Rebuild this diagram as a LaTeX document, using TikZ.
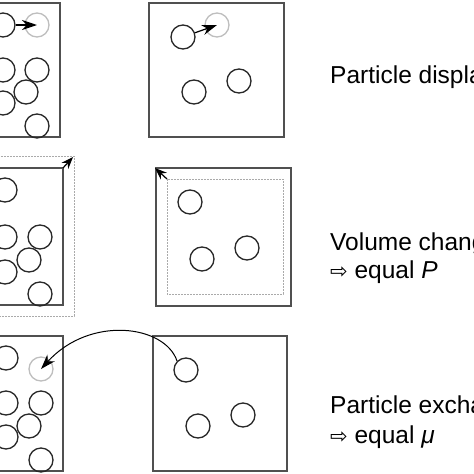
\documentclass[tikz,border=0pt]{standalone}
\usepackage{fontspec}
\setmainfont{Liberation Sans}
\newfontfamily\arrowfont{DejaVu Sans}
\usetikzlibrary{arrows.meta}
\definecolor{mcWall}{RGB}{80,80,80}
\definecolor{mcPart}{RGB}{40,40,40}
\definecolor{mcGhost}{RGB}{190,190,190}
\definecolor{mcTrial}{RGB}{170,170,170}

\begin{document}
\begin{tikzpicture}[x=1pt, y=-1pt,
    wall/.style={draw=mcWall, line width=1.3pt},
    trialwall/.style={draw=mcTrial, line width=1pt, dash pattern=on 2pt off 1pt},
    part/.style={circle, draw=mcPart, line width=1.3pt, minimum size=24pt, inner sep=0pt},
    ghost/.style={part, draw=mcGhost},
    move/.style={-{Stealth[length=15pt,width=10pt]}, line width=1.2pt, draw=black},
    small move/.style={move, -{Stealth[length=12pt,width=9pt]}},
    txt/.style={anchor=base west, inner sep=0pt, font=\fontsize{24.5}{29}\selectfont}
  ]
    \useasboundingbox (0,0) rectangle (474,474);
    \clip (0,0) rectangle (474,474);

    % row 1: particle displacement
    \draw[wall] (-75,3) rectangle (60,137);
    \draw[wall] (149,3) rectangle (284,137);
    \node[part] (d1s) at (3,25) {};
    \node[ghost] (d1g) at (37,25) {};
    \foreach \px/\py [count=\i] in {3/70, 37/70, 26/92, 3/103, 37/126}
      \node[part] (d1p\i) at (\px,\py) {};
    \node[part] (d2s) at (183,37) {};
    \node[ghost] (d2g) at (217,25) {};
    \foreach \px/\py [count=\i] in {194/92, 239/81}
      \node[part] (d2p\i) at (\px,\py) {};
    \draw[move] (d1s) -- (d1g.center);
    \draw[move] (d2s) -- (d2g.center);
    \node[txt] (dtext) at (330,83) {Particle displacement};

    % row 2: volume change
    \draw[trialwall] (-90,156) rectangle (74,316);
    \draw[wall] (-75,168) rectangle (63,305);
    \draw[wall] (156,168) rectangle (291,306);
    \draw[trialwall] (167,179) rectangle (283,294);
    \coordinate (v1old) at (63,168);
    \coordinate (v1new) at (73,157);
    \coordinate (v2old) at (167,179);
    \coordinate (v2new) at (155,168);
    \draw[small move] (v1old) -- (v1new);
    \draw[small move] (v2old) -- (v2new);
    \foreach \px/\py [count=\i] in {5/190, 5/237, 40/237, 29/260, 5/272, 40/294}
      \node[part] (v1p\i) at (\px,\py) {};
    \foreach \px/\py [count=\i] in {190/202, 202/259, 247/248}
      \node[part] (v2p\i) at (\px,\py) {};
    \node[txt] (vtext) at (330,250) {Volume change};
    \node[txt] (vtextb) at (330,278) {{\arrowfont\fontsize{21}{29}\selectfont ⇨} equal \textit{P}};

    % row 3: particle exchange
    \draw[wall] (-72,336) rectangle (63,471);
    \draw[wall] (153,336) rectangle (287,471);
    \node[ghost] (x1g) at (41,369) {};
    \foreach \px/\py [count=\i] in {6/358, 6/403, 41/403, 29/426, 6/437, 41/460}
      \node[part] (x1p\i) at (\px,\py) {};
    \node[part] (x2s) at (186,370) {};
    \foreach \px/\py [count=\i] in {198/426, 243/415}
      \node[part] (x2p\i) at (\px,\py) {};
    \draw[move, line width=1pt] (x2s.north west) .. controls (165,325) and (90,315) .. (x1g.center);
    \node[txt] (xtext) at (330,413) {Particle exchange};
    \node[txt] (xtextb) at (330,443) {{\arrowfont\fontsize{21}{29}\selectfont ⇨} equal \textit{μ}};
  \end{tikzpicture}
\end{document}
